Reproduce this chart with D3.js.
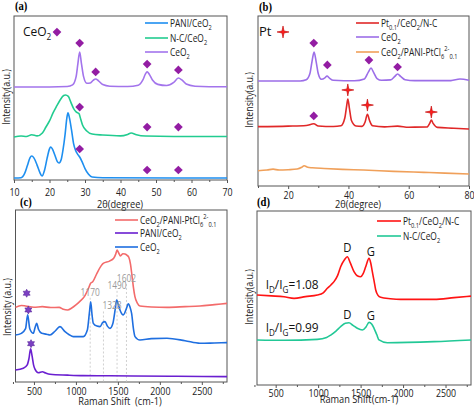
<!DOCTYPE html>
<html>
<head>
<meta charset="utf-8">
<script src="https://cdn.jsdelivr.net/npm/d3@7"></script>
<style>
body { margin: 0; background: #fff; }
svg { display: block; font-family: "Open Sans", sans-serif; }
</style>
</head>
<body>
<div id="canvas"></div>
<script>
"use strict"

/* ---------- data ---------- */

// (a) XRD, 2theta in degrees, intensity in a.u. (0-100 inside the frame)
let ticksA = [10, 20, 30, 40, 50, 60, 70]
let minorA = [15, 25, 35, 45, 55, 65]
let xrdA_CeO2 = [[10,56.7],[20,56.7],[25,57],[26.5,58],[27.5,63],[28,71],[28.5,78],[29,71],[29.6,63],[30.5,59],[31.5,59.2],[32.3,60.8],[33,61.6],[33.8,60.5],[35,58.2],[37,57.2],[42,57],[45,57.8],[46.3,61],[47,64.5],[47.5,65.9],[48.1,64.5],[49,61],[50.5,58.3],[53,57.6],[55,59.5],[56.3,62.2],[57.3,61],[58.5,58.5],[61,57.2],[65,56.9],[70,56.9]]
let xrdA_NC = [[10,26.2],[12,26.8],[13.5,26.5],[15,27.6],[16.5,26.9],[18,28.7],[19,32.3],[20,36],[21,40.9],[22,45],[23,48.8],[24,51.5],[24.5,51.8],[25.3,51],[26,47.5],[26.8,43.5],[27.5,41.5],[28.3,40.5],[28.8,37],[29.3,33.5],[30.5,29.9],[32,28],[35,27.4],[40,26.9],[42,27.8],[43,28.7],[44.5,27.6],[47,26.8],[55,26.5],[70,26.5]]
let xrdA_PANI = [[10,1.2],[12,1.4],[13,4],[13.8,9],[14.5,13.5],[15,14.6],[15.6,13.5],[16.5,9.1],[17.3,4.5],[17.9,2.4],[18.6,6],[19.3,13],[20,19],[20.3,20.1],[20.8,19],[21.5,15.2],[22.2,11.2],[22.7,10.4],[23.3,12.5],[23.8,18.3],[24.4,28],[24.9,38],[25.2,40.9],[25.6,38],[26.2,30.5],[26.8,22],[27.3,18.3],[28,15.5],[28.5,14],[29.2,11],[30,7],[31,3.5],[32,1.8],[35,1.4],[70,1.2]]
let diamondsA = [[28.5,83.5],[33,65.9],[47.5,70.7],[56.3,67.1],[28.5,44.5],[47.5,32.3],[56.3,32.3],[28.5,18.9],[47.5,6.1],[56.3,6.1]]

// (b) XRD
let ticksB = [20, 40, 60, 80]
let minorB = [10, 30, 50, 70]
let xrdB_CeO2 = [[10,61.8],[24,61.8],[26,62.5],[27.2,66],[27.9,73],[28.6,78.8],[29.3,73],[30,66],[31,62.8],[32.2,63.6],[32.9,64.7],[33.7,63.5],[35,62.2],[42,61.9],[45.3,63],[46.6,67],[47.5,69.4],[48.3,67],[49.5,63.2],[51,62.2],[54,62.4],[55.4,64.5],[56.3,65.9],[57.3,64.5],[58.8,62.5],[62,62],[74,62],[77,62.9],[80,62.2]]
let xrdB_Pt = [[10,34.9],[20,35.2],[26,35.6],[28.5,36.6],[30,35.3],[35,35],[37.5,35.4],[38.8,40],[39.4,47],[39.8,51.2],[40.3,46],[41,38.5],[42.5,35.3],[44.5,35.1],[45.5,37.5],[46.3,42.2],[47,38.5],[48,35.4],[52,34.8],[56.3,35.2],[60,34.6],[66,34.7],[67,37],[67.5,38.8],[68.1,36.8],[69.5,34.5],[75,34],[80,33.5]]
let xrdB_PtCl = [[10,9],[13,9.4],[15,9.9],[17,9.4],[20,9.6],[23,10],[24.5,11],[25.3,11.9],[26.5,11],[28,10.7],[32,10.3],[38,9.8],[45,9.4],[55,8.6],[65,8],[72,7.6],[80,7.1]]
let diamondsB = [[28.5,84.1],[33,71.2],[46.8,74.1],[56.3,70],[28.5,41.2]]
let starsB = [[39.8,56.5],[46.3,47.6],[67.5,43.5]]

// (c) Raman, shift in cm-1
let ramanTicks = [500, 1000, 1500, 2000, 2500]
let ramanMinor = [250, 750, 1250, 1750, 2250, 2750]
let ramanC_PtCl = [[280,43.4],[350,44.5],[400,44.2],[500,43.5],[600,43.8],[700,43.3],[800,43.4],[850,42.3],[900,41.9],[950,43],[1000,44.8],[1050,47],[1100,49.6],[1150,54.5],[1175,57.4],[1200,58.3],[1250,63.2],[1300,67.5],[1325,69],[1400,70.3],[1450,71.9],[1475,74.5],[1490,76.7],[1510,75],[1530,73.3],[1560,74.6],[1585,74.4],[1610,73.6],[1630,72.5],[1650,68.5],[1667,62.2],[1685,55],[1703,49.6],[1730,46],[1763,44.2],[1900,43.6],[2085,43.4],[2300,43.8],[2478,44.2],[2650,45],[2800,45.7]]
let ramanC_PANI = [[280,7],[373,8],[420,10],[440,13.5],[460,19.3],[478,15],[495,10],[512,7.5],[552,5.4],[600,6],[640,5.2],[691,4.5],[900,4],[1088,3.7],[1400,3.6],[1684,3.5],[2200,3.3],[2800,3.1]]
let ramanC_CeO2 = [[280,27.3],[350,28.3],[400,31],[425,39],[450,31],[492,28.3],[515,32],[532,34.1],[555,30.5],[592,28.3],[650,27.8],[691,27.3],[750,29.5],[810,32.2],[870,29.3],[920,27.5],[969,26.4],[1088,26.4],[1136,30.2],[1160,40],[1176,46.7],[1192,39],[1207,34.1],[1250,32.5],[1287,32.2],[1320,34.6],[1346,35.1],[1375,32.5],[1406,31.2],[1440,34],[1470,43],[1485,47.7],[1505,45],[1525,41.9],[1565,39],[1600,42.5],[1624,45.4],[1645,43.5],[1664,39.7],[1685,31],[1704,26.4],[1763,24.4],[1900,25.2],[2085,25.4],[2300,24],[2478,22.5],[2650,22.7],[2800,22.9]]
let starsC = [[413,51.6],[433,41.9],[465,22.3]]
let peaksC = [1170, 1328, 1490, 1602]

// (d) Raman
let ramanD_Pt = [[280,51.7],[450,51.2],[598,50.7],[716,49.8],[850,50.8],[990,51.7],[1060,53],[1108,55.6],[1150,57.5],[1187,59.4],[1230,63],[1265,68],[1310,72],[1343,73.7],[1380,70],[1422,65.1],[1460,62.8],[1500,62.2],[1530,64],[1560,68],[1599,72.8],[1620,70],[1638,65.1],[1658,60],[1678,54.6],[1705,51.5],[1737,50.4],[1850,49.6],[1972,49.2],[2364,49.2],[2600,50.2],[2800,51.1]]
let ramanD_NC = [[280,25.9],[600,25.7],[990,26.2],[1100,27.3],[1148,28.7],[1210,31],[1265,33.5],[1320,35.5],[1363,35.8],[1410,34.3],[1461,32.6],[1520,31.6],[1565,33.5],[1599,36],[1630,35],[1658,32.6],[1690,29],[1717,25.9],[1815,24.3],[2364,24.9],[2800,25.9]]
let ratiosD = ["1.08", "0.99"]

/* ---------- canvas ---------- */

let svgWidth = 474
let svgHeight = 408
let squeeze = 0.84 // the figure's lettering is squashed sideways

let svg = d3.select("#canvas")
    .append("svg")
    .attr("width", svgWidth)
    .attr("height", svgHeight)

function addText(x, y, size, sx) {
    return svg.append("text")
        .attr("transform", "translate(" + x + "," + y + ") scale(" + sx + ",1)")
        .attr("font-size", size)
}

// parts: [text, ""|"sub"|"sup"]
function rich(sel, parts, size) {
    let shift = 0
    parts.forEach(function (p) {
        let off = p[1] === "sub" ? size * 0.3 : p[1] === "sup" ? -size * 0.45 : 0
        sel.append("tspan")
            .attr("dy", off - shift)
            .attr("font-size", p[1] ? size * 0.68 : size)
            .text(p[0])
        shift = off
    })
    return sel
}

function makePanel(box, xDomain) {
    let x = d3.scaleLinear().domain(xDomain).range([box.left, box.right])
    let y = d3.scaleLinear().domain([0, 100]).range([box.bottom, box.top])
    svg.append("rect")
        .attr("x", box.left)
        .attr("y", box.top)
        .attr("width", box.right - box.left)
        .attr("height", box.bottom - box.top)
        .attr("fill", "none")
        .attr("stroke", "#555")
    return {x: x, y: y, box: box}
}

function bottomAxis(p, majors, minors, pad) {
    let gMinor = svg.append("g")
        .attr("transform", "translate(0," + p.box.bottom + ")")
        .call(d3.axisBottom(p.x).tickValues(minors).tickSize(2).tickSizeOuter(0).tickFormat(""))
    gMinor.select(".domain").remove()
    gMinor.selectAll("line").attr("stroke", "#555")

    let g = svg.append("g")
        .attr("transform", "translate(0," + p.box.bottom + ")")
        .call(d3.axisBottom(p.x).tickValues(majors).tickSize(3).tickSizeOuter(0)
            .tickPadding(pad).tickFormat(d3.format("d")))
    g.select(".domain").remove()
    g.attr("font-size", 10.5).attr("font-family", null)
    g.selectAll("line").attr("stroke", "#555")
    g.selectAll("text").attr("fill", "#222").attr("transform", "scale(" + squeeze + ",1)")
}

function curve(p, data, color) {
    let line = d3.line()
        .x(function (d) { return p.x(d[0]) })
        .y(function (d) { return p.y(d[1]) })
        .curve(d3.curveMonotoneX)
    svg.append("path")
        .attr("d", line(data))
        .attr("fill", "none")
        .attr("stroke", color)
        .attr("stroke-width", 1.6)
        .attr("stroke-linejoin", "round")
}

let diamondPath = d3.symbol(d3.symbolSquare, 38)()
function diamonds(p, data) {
    svg.selectAll(null)
        .data(data)
        .join("path")
        .attr("d", diamondPath)
        .attr("transform", function (d) {
            return "translate(" + p.x(d[0]) + "," + p.y(d[1]) + ") rotate(45)"
        })
        .attr("fill", "#931da3")
}

function starPath(points, rOut, rIn) {
    let pts = []
    for (let i = 0; i < points * 2; i++) {
        let a = -Math.PI / 2 + i * Math.PI / points
        let r = i % 2 === 0 ? rOut : rIn
        pts.push([r * Math.cos(a), r * Math.sin(a)])
    }
    return "M" + pts.join("L") + "Z"
}
let crossStar = starPath(4, 6, 1.4)
let hexStar = starPath(6, 4, 2.3)

function stars(p, data, path, fill, stroke) {
    svg.selectAll(null)
        .data(data)
        .join("path")
        .attr("d", path)
        .attr("transform", function (d) {
            return "translate(" + p.x(d[0]) + "," + p.y(d[1]) + ")"
        })
        .attr("fill", fill)
        .attr("stroke", stroke)
        .attr("stroke-width", 0.6)
}

function legend(items, x0, x1, rows) {
    items.forEach(function (it, i) {
        svg.append("line")
            .attr("x1", x0).attr("x2", x1)
            .attr("y1", rows[i]).attr("y2", rows[i])
            .attr("stroke", it.color)
            .attr("stroke-width", 1.6)
        rich(addText(x1 + 2, rows[i] + 3.5, 10, squeeze).attr("fill", "#222"), it.parts, 10)
    })
}

function yTitle(x, y, txt) {
    svg.append("text")
        .attr("transform", "translate(" + x + "," + y + ") rotate(-90) scale(" + squeeze + ",1)")
        .attr("text-anchor", "middle")
        .attr("font-size", 10.5)
        .attr("fill", "#222")
        .text(txt)
}

function panelTag(x, y, txt) {
    addText(x, y, 12.5, 0.85)
        .attr("font-family", "'Liberation Serif', serif")
        .attr("font-weight", "bold")
        .text(txt)
}

/* ---------- (a) ---------- */
let pa = makePanel({left: 14, right: 227, top: 16, bottom: 180}, [10, 70])
bottomAxis(pa, ticksA, minorA, 6)
curve(pa, xrdA_CeO2, "#a374ec")
curve(pa, xrdA_NC, "#22cc90")
curve(pa, xrdA_PANI, "#1e8ff0")
diamonds(pa, diamondsA)
rich(addText(pa.x(12.5), pa.y(90.2) + 4, 12, 1).attr("fill", "#111"), [["CeO", ""], ["2", "sub"]], 12)
diamonds(pa, [[22.1, 90.2]])
legend([
    {color: "#1e8ff0", parts: [["PANI/CeO", ""], ["2", "sub"]]},
    {color: "#22cc90", parts: [["N-C/CeO", ""], ["2", "sub"]]},
    {color: "#a374ec", parts: [["CeO", ""], ["2", "sub"]]}
], 145, 168, [23, 38, 52])
yTitle(9.5, 97, "Intensity(a.u.)")
addText(120, 207.5, 11, squeeze).attr("text-anchor", "middle").attr("fill", "#222").text("2θ(degree)")
panelTag(15, 10, "(a)")

/* ---------- (b) ---------- */
let pb = makePanel({left: 258, right: 469, top: 16, bottom: 186}, [10, 80])
bottomAxis(pb, ticksB, minorB, 2.5)
curve(pb, xrdB_CeO2, "#9c6ee8")
curve(pb, xrdB_Pt, "#e02828")
curve(pb, xrdB_PtCl, "#f0a05a")
diamonds(pb, diamondsB)
stars(pb, starsB, crossStar, "#ff1e1e", "#c00000")
addText(pb.x(10.3), pb.y(90.6) + 4.5, 13, 1).attr("fill", "#111").text("Pt")
stars(pb, [[18.3, 90.6]], crossStar, "#ff1e1e", "#c00000")
legend([
    {color: "#e02828", parts: [["Pt", ""], ["0.1", "sub"], ["/CeO", ""], ["2", "sub"], ["/N-C", ""]]},
    {color: "#9c6ee8", parts: [["CeO", ""], ["2", "sub"]]},
    {color: "#f0a05a", parts: [["CeO", ""], ["2", "sub"], ["/PANI-PtCl", ""], ["6", "sub"], ["2-", "sup"], ["0.1", "sub"]]}
], 356, 379, [23, 37, 52])
yTitle(253, 100, "Intensity(a.u.)")
addText(358, 207.5, 11, squeeze).attr("text-anchor", "middle").attr("fill", "#222").text("2θ(degree)")
panelTag(259, 11, "(b)")

/* ---------- (c) ---------- */
let pc = makePanel({left: 15.5, right: 227, top: 210, bottom: 382}, [280, 2800])
bottomAxis(pc, ramanTicks, ramanMinor, 2.5)

// grey guides at the Raman bands
let guideTop = [49, 41, 53, 57]
peaksC.forEach(function (v, i) {
    svg.append("line")
        .attr("x1", pc.x(v)).attr("x2", pc.x(v))
        .attr("y1", pc.y(guideTop[i])).attr("y2", pc.box.bottom)
        .attr("stroke", "#c4c4c4")
        .attr("stroke-width", 0.8)
        .attr("stroke-dasharray", "2,2")
})

curve(pc, ramanC_PtCl, "#f36b6b")
curve(pc, ramanC_PANI, "#6a1fd0")
curve(pc, ramanC_CeO2, "#1f6fe0")
peaksC.forEach(function (v, i) {
    addText(i === 1 ? pc.x(v) - 1 : pc.x(v), pc.y(guideTop[i]) - 2, 10, squeeze)
        .attr("text-anchor", i === 1 ? "start" : "middle")
        .attr("fill", "#9a9a9a")
        .text(v)
})
stars(pc, starsC, hexStar, "#7b3fc2", "#5a2a9a")
legend([
    {color: "#f36b6b", parts: [["CeO", ""], ["2", "sub"], ["/PANI-PtCl", ""], ["6", "sub"], ["2-", "sup"], ["0.1", "sub"]]},
    {color: "#6a1fd0", parts: [["PANI/CeO", ""], ["2", "sub"]]},
    {color: "#1f6fe0", parts: [["CeO", ""], ["2", "sub"]]}
], 115, 138, [220, 233, 247])
yTitle(11, 307, "Intensity  (a.u.)")
addText(120, 405, 11, squeeze).attr("text-anchor", "middle").attr("fill", "#222").attr("xml:space", "preserve").text("Raman Shift  (cm-1)")
panelTag(20, 206, "(c)")

/* ---------- (d) ---------- */
let pd = makePanel({left: 257, right: 471, top: 211, bottom: 385}, [280, 2800])
bottomAxis(pd, ramanTicks, ramanMinor, 1.5)
curve(pd, ramanD_Pt, "#ff1414")
curve(pd, ramanD_NC, "#22c896")

// D and G band labels above each curve
let bandRows = [[76.4, 74.1], [37.9, 37.4]]
bandRows.forEach(function (r) {
    addText(pd.x(1343), pd.y(r[0]), 12.5, 0.9).attr("text-anchor", "middle").attr("fill", "#111").text("D")
    addText(pd.x(1619), pd.y(r[1]), 12.5, 0.9).attr("text-anchor", "middle").attr("fill", "#111").text("G")
})
let ratioY = [54.9, 30.2]
ratiosD.forEach(function (v, i) {
    rich(addText(pd.x(382), pd.y(ratioY[i]), 12.5, 0.95).attr("fill", "#111"),
        [["I", ""], ["D", "sub"], ["/I", ""], ["G", "sub"], ["=" + v, ""]], 12.5)
})
legend([
    {color: "#ff1414", parts: [["Pt", ""], ["0.1", "sub"], ["/CeO", ""], ["2", "sub"], ["/N-C", ""]]},
    {color: "#22c896", parts: [["N-C/CeO", ""], ["2", "sub"]]}
], 377, 401, [221, 236])
yTitle(253, 297, "Intensity(a.u.)")
addText(359, 403, 11, squeeze).attr("text-anchor", "middle").attr("fill", "#222").text("Raman Shift(cm-1)")
panelTag(257, 206, "(d)")
</script>
</body>
</html>
